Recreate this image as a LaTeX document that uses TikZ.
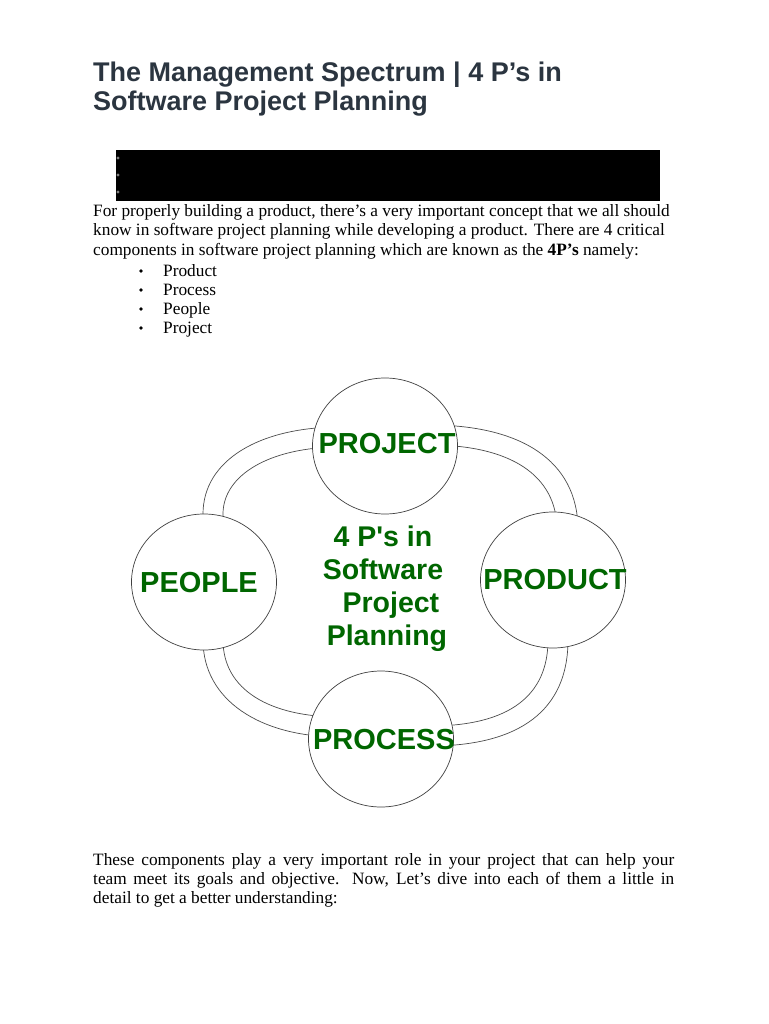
\documentclass[tikz,border=0pt]{standalone}
\usepackage{fontspec}
\setmainfont{Liberation Serif}
\newfontfamily\hsans{Liberation Sans}
\usetikzlibrary{shapes.geometric}
\definecolor{titlec}{HTML}{2B3540}
\begin{document}
\begin{tikzpicture}[x=1pt,y=-1pt,
  body/.style={anchor=base west,inner sep=0,font=\fontsize{17.3}{19}\selectfont},
  pnode/.style={draw=black!75,line width=0.7pt,fill=white,ellipse,minimum width=145,minimum height=136,inner sep=0},
  lab/.style={text=green!40!black,font=\hsans\bfseries\fontsize{29}{33}\selectfont},
  ring/.style={draw=black!70,line width=0.7pt}]
\useasboundingbox (0,0) rectangle (768,1024);
\fill[white] (0,0) rectangle (768,1024);
\node[anchor=base west,inner sep=0,text=titlec,align=left,font=\hsans\bfseries\fontsize{27}{29.5}\selectfont] (title) at (93,111) {The Management Spectrum | 4 P’s in\\Software Project Planning};
\fill[black] (116,150) rectangle (660,201);
\foreach \y in {158,175,192} \fill[gray] (118,\y) circle (1.6);
\node[body] (p1) at (93,217) {For properly building a product, there’s a very important concept that we all should};
\node[body] (p2) at (93,236) {know in software project planning while developing a product. There are 4 critical};
\node[body] (p3) at (93,255) {components in software project planning which are known as the \textbf{4P’s} namely:};
\foreach \t [count=\i] in {Product,Process,People,Project}{
  \fill (141,{252+19*\i}) circle (1.9);
  \node[body] (l\i) at (163,{257+19*\i}) {\t};}
% rings
\draw[ring] (203,540) -- (203,514) .. controls (203,460) and (260,427) .. (340,427) -- (430,425) .. controls (520,425) and (578,460) .. (578,530) -- (568,640) .. controls (568,710) and (520,746) .. (430,746) -- (340,737) .. controls (260,737) and (203,700) .. (203,640) -- cycle;
\draw[ring] (223,540) -- (223,514) .. controls (223,475) and (270,447) .. (340,447) -- (430,445) .. controls (510,445) and (557,475) .. (557,530) -- (548,640) .. controls (548,695) and (510,726) .. (430,726) -- (340,717) .. controls (270,717) and (223,690) .. (223,640) -- cycle;
\node[pnode] (proj) at (385,446) {};
\node[pnode] (peop) at (204,582) {};
\node[pnode] (prod) at (553,580) {};
\node[pnode] (proc) at (381,739) {};
\node[lab] at (387,444) {PROJECT};
\node[lab] at (199,583) {PEOPLE};
\node[lab] at (555,580) {PRODUCT};
\node[lab] at (384,740) {PROCESS};
\node[lab,align=center,font=\hsans\bfseries\fontsize{28.5}{33}\selectfont] (ctr) at (383,589) {4 P's in\\Software\\\ \ Project\\\ Planning};
\node[body] (q1) at (93,865) {\makebox[581pt][s]{These components play a very important role in your project that can help your}};
\node[body] (q2) at (93,884) {\makebox[581pt][s]{team meet its goals and objective. Now, Let’s dive into each of them a little in}};
\node[body] (q3) at (93,903) {detail to get a better understanding:};
\end{tikzpicture}
\end{document}
